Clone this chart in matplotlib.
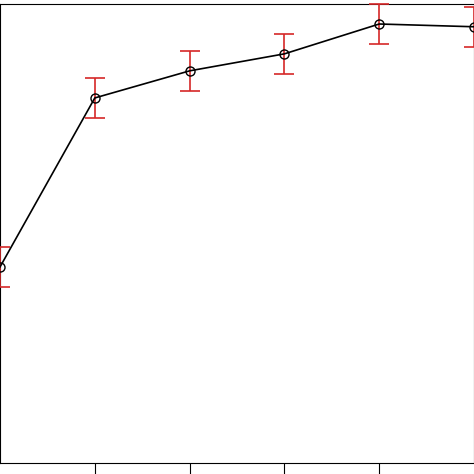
import matplotlib
matplotlib.use("Agg")
import matplotlib.pyplot as plt

x = [0, 1, 2, 3, 4, 5]
y = [0.427, 0.795, 0.854, 0.891, 0.956, 0.950]
err = [0.044, 0.044, 0.044, 0.044, 0.044, 0.044]

fig = plt.figure(figsize=(4.74, 4.74), dpi=100)
ax = fig.add_axes([0.0, 0.023, 1.0, 0.969])
ax.errorbar(x, y, yerr=err, fmt='o-', color='black', mfc='none', ms=6.5, lw=1.2,
            ecolor='#d62728', elinewidth=1.2, capsize=7, capthick=1.2, clip_on=False, zorder=3)
ax.set_xlim(0, 5)
ax.set_ylim(0, 1)
ax.set_xticks([1, 2, 3, 4])
ax.set_xticklabels([])
ax.set_yticks([])
ax.tick_params(axis='x', direction='out', length=10)
fig.savefig("out.png", dpi=100)
